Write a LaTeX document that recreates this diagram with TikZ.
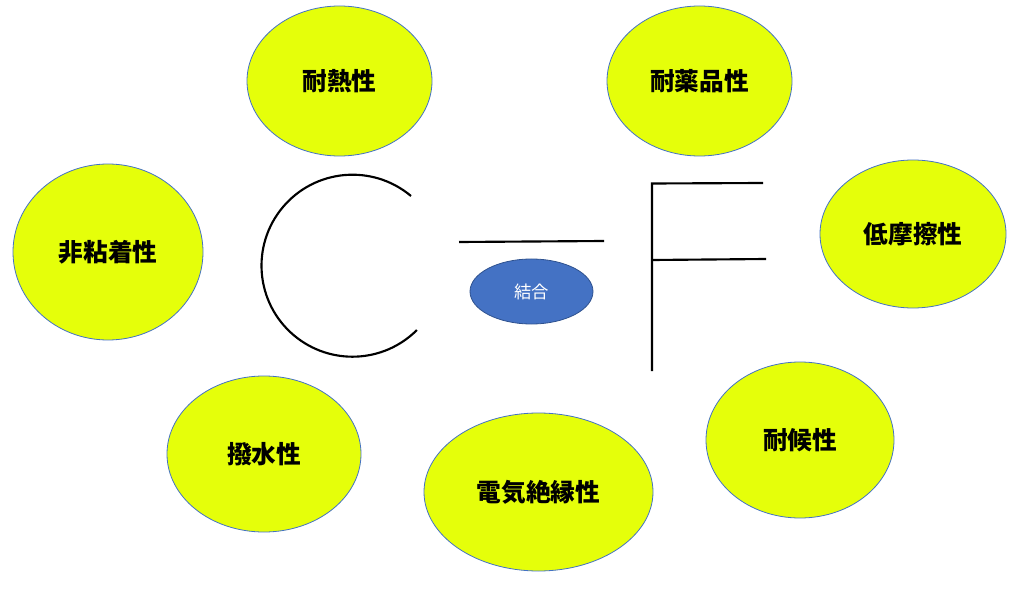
\documentclass[tikz,border=0pt]{standalone}
\usepackage{fontspec}
\newfontfamily\cjk{Noto Sans CJK JP}
\usetikzlibrary{shapes.geometric}
\definecolor{propfill}{RGB}{229,255,10}
\definecolor{propline}{RGB}{68,114,196}
\definecolor{bondfill}{RGB}{68,114,196}
\definecolor{bondline}{RGB}{47,82,143}
\tikzset{
  prop/.style={ellipse, draw=propline, fill=propfill, line width=0.6pt, inner sep=0pt,
    font=\cjk\bfseries\fontsize{18.5pt}{22pt}\selectfont},
  bondlabel/.style={ellipse, draw=bondline, fill=bondfill, line width=0.6pt, inner sep=0pt,
    text=white, font=\cjk\fontsize{13pt}{16pt}\selectfont},
  letter/.style={line width=1.6pt, black}
}
\begin{document}
\begin{tikzpicture}[x=0.75pt,y=0.75pt,yscale=-1,xscale=1]
  % frame
  \useasboundingbox (0,0) rectangle (1024,595);
  %Shape: Ellipse [id:heat]
  \node [prop, minimum width=138.75pt, minimum height=112.5pt] (heat) at (339.5,81) {耐熱性};
  %Shape: Ellipse [id:chem]
  \node [prop, minimum width=138.75pt, minimum height=112.5pt] (chem) at (699.5,81) {耐薬品性};
  %Shape: Ellipse [id:nonstick]
  \node [prop, minimum width=142.5pt, minimum height=132pt] (nonstick) at (108,252) {非粘着性};
  %Shape: Ellipse [id:friction]
  \node [prop, minimum width=139.5pt, minimum height=111pt] (friction) at (913,234) {低摩擦性};
  %Shape: Ellipse [id:water]
  \node [prop, minimum width=145.5pt, minimum height=117pt] (water) at (264,454) {撥水性};
  %Shape: Ellipse [id:insul]
  \node [prop, minimum width=171.75pt, minimum height=118.5pt] (insul) at (538.5,492) {電気絶縁性};
  %Shape: Ellipse [id:weather]
  \node [prop, minimum width=141pt, minimum height=117pt] (weather) at (800,440) {耐候性};
  %Shape: Ellipse [id:bond]
  \node [bondlabel, minimum width=92.25pt, minimum height=48.75pt] (bond) at (531.5,291.5) {結合};

  %Arc: letter C
  \draw [letter] (411,196) arc [start angle=-50, end angle=-315, radius=91];
  %Straight Lines: bond line
  \draw [letter] (459,242) -- (604,241);
  %Straight Lines: letter F
  \draw [letter] (652,371) -- (652,183.5) -- (763,183);
  \draw [letter] (652,260) -- (766,259);
\end{tikzpicture}
\end{document}
